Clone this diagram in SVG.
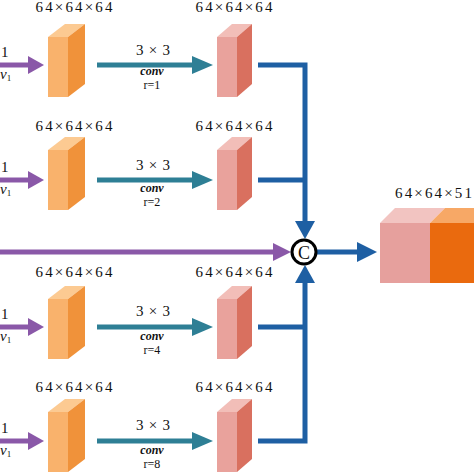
<svg xmlns="http://www.w3.org/2000/svg" width="474" height="474" viewBox="0 0 474 474">
<defs>
<style>
text{font-family:"Liberation Serif","DejaVu Serif","Times New Roman",serif;fill:#111}
.t{font-size:15px;text-anchor:middle}
.c{font-size:12px;font-weight:bold;font-style:italic;text-anchor:middle}
.r{font-size:12px;text-anchor:middle}
.s{font-size:15px}
.pu{stroke:#8a58a8;stroke-width:5;fill:none}
.te{stroke:#2e7f95;stroke-width:5;fill:none}
.bl{stroke:#1e5fa3;stroke-width:5;fill:none;stroke-linejoin:miter}
.of{fill:#f9b26c}.os{fill:#f0923a}.ot{fill:#fcca92}
.pf{fill:#e9a29c}.ps{fill:#d9705f}.pt{fill:#f2beb8}
</style>
<g id="obox"><polygon class="ot" points="0,0 17,-13 37,-13 20,0"/><rect class="of" x="0" y="0" width="20" height="60"/><polygon class="os" points="20,0 37,-13 37,47 20,60"/></g>
<g id="pbox"><polygon class="pt" points="0,0 15,-13 35,-13 20,0"/><rect class="pf" x="0" y="0" width="20" height="60"/><polygon class="ps" points="20,0 35,-13 35,47 20,60"/></g>
</defs>

<g id="connectors">
<path class="pu" d="M0,65H30"/><polygon fill="#8a58a8" points="28,56 44,65 28,74"/>
<path class="pu" d="M0,180H30"/><polygon fill="#8a58a8" points="28,171 44,180 28,189"/>
<path class="pu" d="M0,327H30"/><polygon fill="#8a58a8" points="28,318 44,327 28,336"/>
<path class="pu" d="M0,441H30"/><polygon fill="#8a58a8" points="28,432 44,441 28,450"/>
<path class="pu" d="M0,252H275"/><polygon fill="#8a58a8" points="273,243 291,252 273,261"/>
<path class="te" d="M97,65H195"/><polygon fill="#2e7f95" points="192,56 213,65 192,74"/>
<path class="te" d="M97,180H195"/><polygon fill="#2e7f95" points="192,171 213,180 192,189"/>
<path class="te" d="M97,327H195"/><polygon fill="#2e7f95" points="192,318 213,327 192,336"/>
<path class="te" d="M97,441H195"/><polygon fill="#2e7f95" points="192,432 213,441 192,450"/>
<path class="bl" d="M258,65H305V224"/>
<path class="bl" d="M258,180H305"/>
<polygon fill="#1e5fa3" points="295,221 315,221 305,239"/>
<path class="bl" d="M258,441H305V280"/>
<path class="bl" d="M258,327H305"/>
<polygon fill="#1e5fa3" points="295,283 315,283 305,265"/>
<path class="bl" d="M317,252H360"/>
<polygon fill="#1e5fa3" points="357,242 377,252 357,262"/>
</g>

<g id="inputs">
<text class="s" x="1" y="57">1</text>
<text class="s" x="0" y="79" font-style="italic">ν<tspan font-size="9" dy="2" font-style="normal">1</tspan></text>
<text class="s" x="1" y="172">1</text>
<text class="s" x="0" y="194" font-style="italic">ν<tspan font-size="9" dy="2" font-style="normal">1</tspan></text>
<text class="s" x="1" y="319">1</text>
<text class="s" x="0" y="341" font-style="italic">ν<tspan font-size="9" dy="2" font-style="normal">1</tspan></text>
<text class="s" x="1" y="433">1</text>
<text class="s" x="0" y="455" font-style="italic">ν<tspan font-size="9" dy="2" font-style="normal">1</tspan></text>
</g>

<g id="row1">
<text class="t" x="74" y="12" textLength="77">64×64×64</text>
<use href="#obox" x="48" y="37"/>
<text class="t" x="153" y="55" textLength="34">3×3</text>
<text class="c" x="152" y="75">conv</text>
<text class="r" x="152" y="89">r=1</text>
<text class="t" x="234" y="12" textLength="77">64×64×64</text>
<use href="#pbox" x="217" y="37"/>
</g>

<g id="row2">
<text class="t" x="74" y="131" textLength="77">64×64×64</text>
<use href="#obox" x="48" y="150"/>
<text class="t" x="153" y="170" textLength="34">3×3</text>
<text class="c" x="152" y="192">conv</text>
<text class="r" x="152" y="206">r=2</text>
<text class="t" x="234" y="131" textLength="77">64×64×64</text>
<use href="#pbox" x="217" y="150"/>
</g>

<g id="row3">
<text class="t" x="74" y="277" textLength="77">64×64×64</text>
<use href="#obox" x="48" y="299"/>
<text class="t" x="153" y="316" textLength="34">3×3</text>
<text class="c" x="152" y="340">conv</text>
<text class="r" x="152" y="354">r=4</text>
<text class="t" x="234" y="277" textLength="77">64×64×64</text>
<use href="#pbox" x="217" y="299"/>
</g>

<g id="row4">
<text class="t" x="74" y="392" textLength="77">64×64×64</text>
<use href="#obox" x="48" y="412"/>
<text class="t" x="153" y="430" textLength="34">3×3</text>
<text class="c" x="152" y="454">conv</text>
<text class="r" x="152" y="468">r=8</text>
<text class="t" x="234" y="392" textLength="77">64×64×64</text>
<use href="#pbox" x="217" y="412"/>
</g>

<g id="concat">
<circle cx="304" cy="252" r="12" fill="#fff" stroke="#000" stroke-width="3"/>
<text x="304" y="258.5" font-size="18" text-anchor="middle" fill="#000">C</text>
</g>

<g id="output">
<text class="s" x="395" y="198" textLength="77">64×64×51</text>
<polygon fill="#f2c4c1" points="380,223 395,208 445,208 430,223"/>
<polygon fill="#f7a866" points="430,223 445,208 474,208 474,223"/>
<rect x="380" y="223" width="50" height="60" fill="#e6a09d"/>
<rect x="430" y="223" width="44" height="60" fill="#ea6a0e"/>
</g>
</svg>
